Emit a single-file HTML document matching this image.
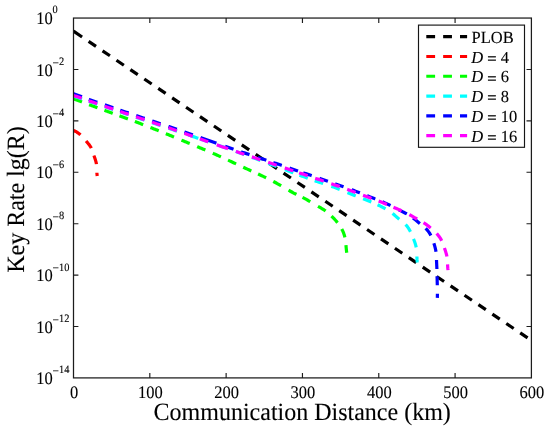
<!DOCTYPE html>
<html><head><meta charset="utf-8"><title>Key Rate vs Communication Distance</title>
<style>html,body{margin:0;padding:0;background:#fff;}body{width:550px;height:429px;overflow:hidden;font-family:"Liberation Serif",serif;}</style>
</head><body>
<svg width="550" height="429" viewBox="0 0 550 429" style="display:block">
<rect x="0" y="0" width="550" height="429" fill="#fff"/>
<defs><clipPath id="ax"><rect x="73.5" y="18.05" width="457.9" height="359.84999999999997"/></clipPath></defs>
<g fill="none" stroke-width="3.2" stroke-linecap="butt" stroke-linejoin="round" clip-path="url(#ax)">
<path d="M73.50,31.20 L529.10,338.91" stroke="#000000" stroke-dasharray="10.35 7.90 8.90 7.90 8.90 7.90 8.90 7.90 8.90 7.90 8.90 7.90 8.90 7.90 8.90 7.90 8.90 7.90 8.90 7.90 8.90 7.90 8.90 7.90 8.90 7.90 8.90 7.90 8.90 7.90 8.90 7.90 8.90 7.90 8.90 7.90 8.90 7.90 8.90 7.90 8.90 7.90 8.90 7.90 8.90 7.90 8.90 7.90 8.90 7.90 8.90 7.90 8.90 7.90 8.90 7.90 8.90 7.90 8.90 7.90 8.90 7.90 8.90 7.90 8.90 7.90 8.90 7.90 8.90 7.90 8.90 7.90 8.90 7.90 8.90 7.90 8.90 7.90 8.90 7.90 8.90 7.90" stroke-dashoffset="0"/>
<path d="M73.60,130.50 L74.13,130.71 L74.64,130.94 L75.15,131.18 L75.64,131.43 L76.12,131.70 L76.60,131.98 L77.06,132.26 L77.51,132.56 L77.96,132.87 L78.40,133.19 L78.82,133.52 L79.24,133.86 L79.66,134.20 L80.07,134.56 L80.47,134.92 L80.86,135.29 L81.25,135.66 L81.64,136.05 L82.02,136.43 L82.39,136.83 L82.76,137.22 L83.13,137.63 L83.50,138.03 L83.86,138.44 L84.22,138.85 L84.58,139.27 L84.94,139.68 L85.30,140.10 L85.65,140.52 L86.01,140.94 L86.37,141.36 L86.73,141.78 L87.08,142.20 L87.44,142.62 L87.79,143.05 L88.15,143.47 L88.49,143.90 L88.83,144.32 L89.17,144.76 L89.49,145.20 L89.81,145.64 L90.12,146.08 L90.41,146.54 L90.70,147.00 L90.97,147.46 L91.23,147.94 L91.47,148.42 L91.70,148.91 L91.92,149.40 L92.12,149.90 L92.32,150.41 L92.51,150.92 L92.69,151.44 L92.87,151.96 L93.04,152.48 L93.20,153.00 L93.37,153.53 L93.53,154.05 L93.69,154.58 L93.85,155.11 L94.02,155.63 L94.18,156.16 L94.35,156.68 L94.53,157.21 L94.70,157.73 L94.87,158.25 L95.04,158.77 L95.21,159.29 L95.38,159.81 L95.54,160.33 L95.69,160.86 L95.84,161.38 L95.98,161.91 L96.10,162.43 L96.22,162.96 L96.33,163.49 L96.42,164.02 L96.50,164.56 L96.57,165.10 L96.62,165.64 L96.67,166.18 L96.71,166.72 L96.73,167.26 L96.76,167.81 L96.78,168.36 L96.79,168.90 L96.81,169.45 L96.82,170.00 L96.83,170.55 L96.84,171.10 L96.86,171.64 L96.88,172.19 L96.90,172.74 L96.93,173.29 L96.97,173.83 L97.02,174.38 L97.08,174.92 L97.15,175.46 L97.23,176.00" stroke="#ff0000" stroke-dasharray="8.20 8.30 8.90 7.90 8.90 8.63 3.68 50.00" stroke-dashoffset="0"/>
<path d="M73.50,98.80 L74.52,99.18 L75.53,99.57 L76.55,99.95 L77.57,100.34 L78.59,100.72 L79.60,101.10 L80.62,101.48 L81.64,101.86 L82.66,102.24 L83.68,102.62 L84.70,103.00 L85.72,103.38 L86.74,103.76 L87.76,104.13 L88.78,104.51 L89.80,104.89 L90.82,105.26 L91.84,105.64 L92.86,106.02 L93.88,106.39 L94.90,106.77 L95.92,107.14 L96.94,107.52 L97.96,107.89 L98.98,108.26 L100.01,108.64 L101.03,109.01 L102.05,109.39 L103.07,109.76 L104.09,110.13 L105.11,110.51 L106.13,110.88 L107.16,111.26 L108.18,111.63 L109.20,112.00 L110.22,112.38 L111.24,112.75 L112.26,113.13 L113.28,113.50 L114.31,113.88 L115.33,114.25 L116.35,114.63 L117.37,115.00 L118.39,115.38 L119.41,115.75 L120.43,116.13 L121.45,116.51 L122.47,116.88 L123.49,117.26 L124.51,117.64 L125.53,118.02 L126.55,118.40 L127.57,118.77 L128.59,119.15 L129.61,119.53 L130.63,119.92 L131.65,120.30 L132.66,120.68 L133.68,121.06 L134.70,121.45 L135.72,121.83 L136.74,122.21 L137.75,122.60 L138.77,122.99 L139.79,123.37 L140.80,123.76 L141.82,124.15 L142.83,124.54 L143.85,124.93 L144.86,125.32 L145.88,125.72 L146.89,126.11 L147.90,126.50 L148.92,126.90 L149.93,127.30 L150.94,127.69 L151.95,128.09 L152.96,128.49 L153.98,128.89 L154.99,129.29 L156.00,129.70 L157.01,130.10 L158.01,130.51 L159.02,130.91 L160.03,131.32 L161.04,131.73 L162.05,132.14 L163.05,132.55 L164.06,132.96 L165.07,133.37 L166.08,133.78 L167.08,134.19 L168.09,134.60 L169.09,135.02 L170.10,135.43 L171.10,135.85 L172.11,136.26 L173.12,136.68 L174.12,137.09 L175.13,137.51 L176.13,137.92 L177.14,138.34 L178.14,138.76 L179.15,139.17 L180.15,139.59 L181.16,140.00 L182.16,140.42 L183.17,140.84 L184.17,141.25 L185.18,141.67 L186.18,142.08 L187.19,142.50 L188.19,142.91 L189.20,143.33 L190.20,143.74 L191.21,144.15 L192.22,144.57 L193.22,144.98 L194.23,145.40 L195.23,145.81 L196.24,146.23 L197.24,146.65 L198.25,147.06 L199.25,147.48 L200.26,147.90 L201.26,148.32 L202.26,148.74 L203.27,149.16 L204.27,149.58 L205.27,150.01 L206.27,150.43 L207.27,150.86 L208.27,151.28 L209.27,151.71 L210.27,152.14 L211.27,152.57 L212.27,153.00 L213.26,153.44 L214.26,153.88 L215.25,154.31 L216.25,154.75 L217.24,155.20 L218.23,155.64 L219.22,156.09 L220.21,156.53 L221.20,156.98 L222.19,157.43 L223.18,157.89 L224.17,158.34 L225.16,158.80 L226.14,159.25 L227.13,159.71 L228.12,160.17 L229.10,160.63 L230.09,161.09 L231.07,161.55 L232.06,162.01 L233.04,162.47 L234.03,162.93 L235.01,163.39 L236.00,163.85 L236.98,164.31 L237.97,164.77 L238.95,165.23 L239.94,165.69 L240.93,166.15 L241.91,166.61 L242.90,167.07 L243.89,167.53 L244.87,167.99 L245.86,168.44 L246.85,168.90 L247.84,169.35 L248.83,169.80 L249.82,170.25 L250.82,170.70 L251.81,171.15 L252.80,171.60 L253.79,172.05 L254.78,172.50 L255.77,172.95 L256.76,173.40 L257.75,173.85 L258.74,174.31 L259.73,174.76 L260.72,175.22 L261.71,175.68 L262.69,176.14 L263.68,176.61 L264.66,177.08 L265.64,177.55 L266.62,178.02 L267.59,178.50 L268.57,178.99 L269.54,179.47 L270.51,179.96 L271.48,180.46 L272.44,180.96 L273.40,181.47 L274.36,181.98 L275.31,182.50 L276.27,183.02 L277.22,183.55 L278.16,184.09 L279.10,184.63 L280.04,185.18 L280.98,185.73 L281.92,186.28 L282.85,186.84 L283.79,187.40 L284.72,187.95 L285.66,188.51 L286.59,189.06 L287.53,189.61 L288.47,190.16 L289.42,190.70 L290.36,191.24 L291.31,191.76 L292.27,192.28 L293.23,192.79 L294.19,193.30 L295.16,193.79 L296.13,194.29 L297.10,194.77 L298.08,195.26 L299.05,195.74 L300.03,196.23 L301.00,196.71 L301.97,197.20 L302.94,197.69 L303.91,198.18 L304.88,198.69 L305.84,199.20 L306.79,199.71 L307.74,200.24 L308.69,200.78 L309.63,201.32 L310.57,201.87 L311.50,202.42 L312.44,202.97 L313.37,203.53 L314.30,204.09 L315.24,204.65 L316.17,205.21 L317.11,205.76 L318.05,206.31 L318.99,206.86 L319.94,207.40 L320.88,207.95 L321.82,208.51 L322.75,209.07 L323.67,209.65 L324.57,210.25 L325.46,210.87 L326.33,211.52 L327.18,212.19 L328.02,212.89 L328.84,213.60 L329.65,214.34 L330.44,215.08 L331.23,215.84 L332.01,216.60 L332.77,217.38 L333.53,218.16 L334.28,218.95 L335.02,219.75 L335.74,220.56 L336.46,221.38 L337.15,222.22 L337.83,223.07 L338.49,223.93 L339.13,224.81 L339.75,225.71 L340.35,226.62 L340.92,227.55 L341.47,228.49 L341.98,229.45 L342.47,230.43 L342.93,231.42 L343.35,232.42 L343.75,233.44 L344.11,234.47 L344.43,235.51 L344.72,236.56 L344.97,237.62 L345.19,238.68 L345.37,239.75 L345.53,240.83 L345.66,241.91 L345.78,242.99 L345.88,244.08 L345.97,245.17 L346.06,246.25 L346.15,247.34 L346.24,248.43 L346.35,249.51 L346.46,250.59 L346.60,251.67 L346.75,252.75" stroke="#00ff00" stroke-dasharray="0.00 0.12 8.90 7.63 8.90 7.42 8.90 7.20 8.90 7.42 8.90 7.85 8.90 7.63 8.90 8.07 8.90 8.07 8.90 8.06 8.90 7.84 8.90 7.86 8.90 7.43 8.90 8.06 8.90 8.72 8.90 6.76 8.90 8.95 8.90 7.86 8.90 7.66 8.90 7.88 8.58 50.00" stroke-dashoffset="0"/>
<path d="M73.50,96.00 L74.76,96.44 L76.02,96.87 L77.27,97.31 L78.53,97.74 L79.79,98.17 L81.05,98.61 L82.31,99.04 L83.57,99.48 L84.83,99.91 L86.08,100.34 L87.34,100.77 L88.60,101.20 L89.86,101.64 L91.12,102.07 L92.38,102.50 L93.64,102.93 L94.90,103.36 L96.16,103.79 L97.42,104.22 L98.68,104.65 L99.94,105.08 L101.20,105.51 L102.46,105.94 L103.72,106.36 L104.98,106.79 L106.24,107.22 L107.50,107.65 L108.76,108.08 L110.02,108.50 L111.28,108.93 L112.54,109.36 L113.81,109.79 L115.07,110.21 L116.33,110.64 L117.59,111.07 L118.85,111.49 L120.11,111.92 L121.37,112.34 L122.63,112.77 L123.89,113.20 L125.15,113.62 L126.42,114.05 L127.68,114.47 L128.94,114.90 L130.20,115.32 L131.46,115.75 L132.72,116.17 L133.98,116.60 L135.25,117.02 L136.51,117.45 L137.77,117.87 L139.03,118.30 L140.29,118.72 L141.55,119.15 L142.82,119.57 L144.08,120.00 L145.34,120.42 L146.60,120.85 L147.86,121.27 L149.12,121.70 L150.38,122.12 L151.65,122.55 L152.91,122.97 L154.17,123.40 L155.43,123.82 L156.69,124.25 L157.95,124.67 L159.21,125.10 L160.48,125.52 L161.74,125.95 L163.00,126.37 L164.26,126.80 L165.52,127.22 L166.78,127.65 L168.04,128.08 L169.30,128.50 L170.57,128.93 L171.83,129.35 L173.09,129.78 L174.35,130.21 L175.61,130.63 L176.87,131.06 L178.13,131.49 L179.39,131.92 L180.65,132.34 L181.91,132.77 L183.17,133.20 L184.43,133.63 L185.69,134.06 L186.95,134.49 L188.21,134.91 L189.48,135.34 L190.74,135.77 L192.00,136.20 L193.25,136.63 L194.51,137.06 L195.77,137.49 L197.03,137.92 L198.29,138.36 L199.55,138.79 L200.81,139.22 L202.07,139.65 L203.33,140.08 L204.59,140.52 L205.85,140.95 L207.11,141.38 L208.36,141.82 L209.62,142.25 L210.88,142.69 L212.14,143.12 L213.40,143.56 L214.65,144.00 L215.91,144.43 L217.17,144.87 L218.43,145.31 L219.68,145.75 L220.94,146.19 L222.20,146.63 L223.45,147.07 L224.71,147.51 L225.96,147.95 L227.22,148.40 L228.47,148.84 L229.73,149.29 L230.98,149.73 L232.24,150.18 L233.49,150.62 L234.74,151.07 L236.00,151.52 L237.25,151.97 L238.50,152.42 L239.76,152.87 L241.01,153.32 L242.26,153.78 L243.51,154.23 L244.76,154.68 L246.01,155.14 L247.26,155.60 L248.51,156.05 L249.76,156.51 L251.01,156.97 L252.26,157.43 L253.51,157.89 L254.76,158.36 L256.01,158.82 L257.25,159.28 L258.50,159.75 L259.75,160.22 L260.99,160.68 L262.24,161.15 L263.49,161.62 L264.73,162.08 L265.98,162.55 L267.22,163.02 L268.47,163.49 L269.72,163.96 L270.96,164.43 L272.21,164.90 L273.45,165.37 L274.70,165.84 L275.94,166.31 L277.19,166.79 L278.43,167.26 L279.68,167.73 L280.92,168.20 L282.17,168.67 L283.41,169.14 L284.66,169.61 L285.90,170.08 L287.15,170.55 L288.39,171.02 L289.64,171.49 L290.89,171.96 L292.13,172.43 L293.38,172.89 L294.63,173.36 L295.87,173.83 L297.12,174.29 L298.37,174.76 L299.61,175.22 L300.86,175.69 L302.11,176.15 L303.36,176.61 L304.61,177.07 L305.86,177.53 L307.11,177.99 L308.36,178.45 L309.61,178.90 L310.86,179.35 L312.11,179.80 L313.37,180.25 L314.62,180.69 L315.88,181.13 L317.14,181.56 L318.40,182.00 L319.66,182.42 L320.92,182.84 L322.18,183.26 L323.45,183.68 L324.71,184.10 L325.98,184.52 L327.24,184.93 L328.51,185.36 L329.77,185.78 L331.03,186.21 L332.28,186.65 L333.54,187.09 L334.79,187.54 L336.04,188.00 L337.28,188.47 L338.53,188.95 L339.77,189.43 L341.00,189.93 L342.24,190.42 L343.47,190.92 L344.70,191.43 L345.94,191.93 L347.17,192.44 L348.40,192.94 L349.63,193.44 L350.87,193.94 L352.10,194.44 L353.34,194.93 L354.58,195.42 L355.82,195.91 L357.06,196.39 L358.30,196.88 L359.54,197.36 L360.78,197.84 L362.02,198.32 L363.26,198.80 L364.50,199.29 L365.74,199.78 L366.97,200.27 L368.21,200.77 L369.44,201.27 L370.67,201.77 L371.90,202.28 L373.13,202.80 L374.35,203.33 L375.57,203.87 L376.78,204.42 L377.99,204.98 L379.19,205.55 L380.39,206.13 L381.58,206.73 L382.77,207.34 L383.95,207.96 L385.12,208.61 L386.28,209.27 L387.43,209.95 L388.56,210.66 L389.67,211.39 L390.77,212.15 L391.84,212.93 L392.89,213.75 L393.91,214.60 L394.92,215.46 L395.92,216.34 L396.92,217.22 L397.92,218.10 L398.94,218.97 L399.97,219.81 L401.02,220.64 L402.07,221.46 L403.10,222.30 L404.11,223.17 L405.08,224.08 L406.00,225.03 L406.86,226.05 L407.67,227.10 L408.44,228.20 L409.15,229.34 L409.82,230.50 L410.44,231.69 L411.03,232.88 L411.58,234.10 L412.10,235.32 L412.61,236.55 L413.09,237.79 L413.57,239.03 L414.05,240.28 L414.52,241.54 L414.96,242.80 L415.37,244.06 L415.74,245.34 L416.06,246.63 L416.31,247.93 L416.50,249.24 L416.64,250.56 L416.74,251.89 L416.80,253.22 L416.85,254.56 L416.89,255.90 L416.93,257.24 L416.98,258.58 L417.06,259.91 L417.17,261.24 L417.33,262.55" stroke="#00ffff" stroke-dasharray="0.00 0.08 8.90 7.34 8.90 7.87 8.90 7.34 8.90 7.87 8.90 8.14 8.90 8.41 8.90 11.94 10.50 2.00 8.84 10.00 8.90 10.00 8.90 8.40 8.90 8.41 8.90 8.94 8.90 6.54 8.90 7.34 8.90 8.67 8.90 8.41 8.90 7.87 8.90 6.81 8.90 8.42 8.90 8.16 8.90 7.66 8.90 9.13 7.20 50.00" stroke-dashoffset="0"/>
<path d="M73.50,93.80 L74.92,94.31 L76.33,94.83 L77.75,95.34 L79.17,95.85 L80.58,96.36 L82.00,96.87 L83.42,97.37 L84.84,97.88 L86.26,98.38 L87.68,98.89 L89.10,99.39 L90.52,99.89 L91.94,100.39 L93.36,100.89 L94.78,101.39 L96.21,101.89 L97.63,102.38 L99.05,102.88 L100.47,103.37 L101.90,103.86 L103.32,104.36 L104.74,104.85 L106.17,105.34 L107.59,105.83 L109.02,106.32 L110.44,106.81 L111.87,107.30 L113.29,107.79 L114.72,108.27 L116.14,108.76 L117.57,109.24 L119.00,109.73 L120.42,110.22 L121.85,110.70 L123.27,111.18 L124.70,111.67 L126.13,112.15 L127.55,112.63 L128.98,113.12 L130.41,113.60 L131.83,114.08 L133.26,114.56 L134.69,115.05 L136.12,115.53 L137.54,116.01 L138.97,116.49 L140.40,116.97 L141.83,117.45 L143.25,117.93 L144.68,118.41 L146.11,118.89 L147.54,119.38 L148.96,119.86 L150.39,120.34 L151.82,120.82 L153.25,121.30 L154.67,121.78 L156.10,122.27 L157.53,122.75 L158.95,123.23 L160.38,123.71 L161.81,124.20 L163.23,124.68 L164.66,125.16 L166.09,125.65 L167.51,126.13 L168.94,126.62 L170.37,127.10 L171.79,127.59 L173.22,128.08 L174.64,128.56 L176.07,129.05 L177.49,129.54 L178.92,130.03 L180.34,130.52 L181.77,131.01 L183.19,131.50 L184.61,131.99 L186.04,132.48 L187.46,132.98 L188.88,133.47 L190.31,133.96 L191.73,134.46 L193.15,134.95 L194.58,135.45 L196.00,135.94 L197.42,136.44 L198.84,136.93 L200.27,137.43 L201.69,137.93 L203.11,138.43 L204.53,138.92 L205.95,139.42 L207.37,139.92 L208.79,140.42 L210.21,140.92 L211.64,141.42 L213.06,141.93 L214.48,142.43 L215.90,142.93 L217.32,143.43 L218.74,143.93 L220.16,144.44 L221.58,144.94 L223.00,145.44 L224.42,145.94 L225.84,146.45 L227.26,146.95 L228.68,147.45 L230.10,147.95 L231.52,148.45 L232.94,148.95 L234.36,149.44 L235.79,149.94 L237.21,150.44 L238.63,150.93 L240.05,151.42 L241.48,151.92 L242.90,152.41 L244.33,152.89 L245.75,153.38 L247.18,153.86 L248.61,154.35 L250.03,154.83 L251.46,155.31 L252.89,155.79 L254.32,156.26 L255.75,156.74 L257.18,157.22 L258.61,157.69 L260.04,158.16 L261.47,158.64 L262.90,159.11 L264.33,159.58 L265.76,160.06 L267.19,160.53 L268.62,161.00 L270.05,161.48 L271.48,161.95 L272.91,162.43 L274.34,162.90 L275.76,163.38 L277.19,163.86 L278.62,164.34 L280.05,164.82 L281.47,165.31 L282.90,165.79 L284.33,166.28 L285.75,166.76 L287.18,167.25 L288.60,167.74 L290.03,168.23 L291.45,168.72 L292.88,169.21 L294.30,169.70 L295.72,170.19 L297.15,170.68 L298.57,171.17 L300.00,171.67 L301.42,172.16 L302.84,172.65 L304.27,173.14 L305.69,173.63 L307.11,174.13 L308.54,174.62 L309.96,175.11 L311.39,175.60 L312.81,176.09 L314.24,176.58 L315.66,177.07 L317.09,177.55 L318.51,178.04 L319.93,178.53 L321.36,179.02 L322.78,179.51 L324.21,180.00 L325.63,180.49 L327.06,180.99 L328.48,181.48 L329.90,181.97 L331.33,182.46 L332.75,182.96 L334.17,183.45 L335.59,183.95 L337.02,184.45 L338.44,184.95 L339.86,185.45 L341.28,185.95 L342.70,186.46 L344.12,186.96 L345.53,187.47 L346.95,187.98 L348.37,188.50 L349.78,189.01 L351.20,189.54 L352.61,190.06 L354.02,190.59 L355.42,191.13 L356.83,191.67 L358.23,192.21 L359.64,192.76 L361.04,193.31 L362.44,193.87 L363.84,194.42 L365.24,194.98 L366.64,195.54 L368.03,196.10 L369.43,196.66 L370.83,197.22 L372.24,197.77 L373.64,198.32 L375.04,198.88 L376.44,199.43 L377.84,199.99 L379.24,200.55 L380.64,201.11 L382.03,201.69 L383.42,202.27 L384.80,202.87 L386.18,203.48 L387.55,204.10 L388.91,204.74 L390.27,205.39 L391.62,206.06 L392.96,206.74 L394.30,207.42 L395.64,208.12 L396.98,208.82 L398.31,209.52 L399.65,210.22 L400.98,210.91 L402.32,211.61 L403.66,212.29 L405.00,212.98 L406.33,213.69 L407.65,214.43 L408.94,215.20 L410.21,216.01 L411.46,216.86 L412.69,217.73 L413.90,218.63 L415.08,219.56 L416.25,220.51 L417.41,221.47 L418.57,222.43 L419.74,223.39 L420.91,224.33 L422.09,225.27 L423.27,226.23 L424.41,227.20 L425.52,228.22 L426.58,229.29 L427.58,230.42 L428.50,231.62 L429.37,232.86 L430.16,234.15 L430.89,235.47 L431.54,236.83 L432.13,238.21 L432.68,239.62 L433.18,241.04 L433.65,242.48 L434.10,243.92 L434.53,245.37 L434.94,246.83 L435.32,248.29 L435.64,249.76 L435.91,251.24 L436.12,252.72 L436.26,254.22 L436.35,255.72 L436.41,257.23 L436.46,258.74 L436.51,260.25 L436.57,261.76 L436.64,263.26 L436.71,264.77 L436.78,266.27 L436.85,267.77 L436.91,269.28 L436.95,270.78 L436.99,272.29 L437.03,273.80 L437.06,275.30 L437.09,276.81 L437.12,278.31 L437.16,279.82 L437.20,281.33 L437.24,282.83 L437.28,284.34 L437.32,285.84 L437.35,287.35 L437.38,288.86 L437.40,290.36 L437.41,291.87 L437.41,293.37 L437.40,294.88 L437.38,296.39 L437.34,297.89" stroke="#0000ff" stroke-dasharray="0.00 0.07 8.90 7.37 8.90 7.97 8.90 7.37 8.90 7.97 8.90 7.97 8.90 8.27 8.90 7.97 8.90 8.24 16.80 9.21 8.90 7.97 8.90 8.87 8.90 7.37 8.90 8.27 8.90 5.56 8.90 8.27 8.90 7.67 8.90 8.57 8.90 7.67 8.90 7.67 8.90 9.48 8.90 7.38 8.90 7.40 8.90 8.29 8.90 8.28 8.90 7.37 8.90 8.43 5.43 50.00" stroke-dashoffset="0"/>
<path d="M73.50,95.40 L74.85,95.89 L76.20,96.37 L77.55,96.86 L78.90,97.34 L80.25,97.82 L81.61,98.30 L82.96,98.78 L84.31,99.26 L85.66,99.74 L87.02,100.21 L88.37,100.68 L89.73,101.16 L91.08,101.63 L92.44,102.10 L93.79,102.57 L95.15,103.04 L96.50,103.51 L97.86,103.98 L99.22,104.44 L100.58,104.91 L101.93,105.37 L103.29,105.84 L104.65,106.30 L106.01,106.76 L107.37,107.22 L108.72,107.68 L110.08,108.14 L111.44,108.60 L112.80,109.06 L114.16,109.52 L115.52,109.98 L116.88,110.44 L118.24,110.90 L119.60,111.35 L120.96,111.81 L122.32,112.27 L123.68,112.72 L125.04,113.18 L126.40,113.64 L127.76,114.09 L129.12,114.55 L130.48,115.00 L131.84,115.46 L133.20,115.92 L134.56,116.37 L135.92,116.83 L137.28,117.28 L138.65,117.74 L140.01,118.19 L141.37,118.65 L142.73,119.11 L144.09,119.56 L145.45,120.02 L146.81,120.48 L148.17,120.94 L149.53,121.39 L150.89,121.85 L152.25,122.31 L153.60,122.77 L154.96,123.23 L156.32,123.69 L157.68,124.15 L159.04,124.61 L160.40,125.07 L161.76,125.54 L163.11,126.00 L164.47,126.47 L165.83,126.93 L167.19,127.40 L168.54,127.86 L169.90,128.33 L171.25,128.80 L172.61,129.27 L173.97,129.74 L175.32,130.21 L176.68,130.68 L178.03,131.16 L179.38,131.63 L180.74,132.11 L182.09,132.58 L183.45,133.06 L184.80,133.53 L186.15,134.01 L187.50,134.49 L188.86,134.97 L190.21,135.45 L191.56,135.92 L192.92,136.40 L194.27,136.88 L195.62,137.36 L196.97,137.84 L198.32,138.32 L199.68,138.80 L201.03,139.28 L202.38,139.76 L203.73,140.24 L205.09,140.72 L206.44,141.20 L207.79,141.68 L209.14,142.15 L210.50,142.63 L211.85,143.11 L213.20,143.59 L214.56,144.06 L215.91,144.54 L217.26,145.01 L218.62,145.49 L219.97,145.96 L221.33,146.43 L222.68,146.91 L224.04,147.38 L225.39,147.85 L226.75,148.32 L228.10,148.79 L229.46,149.25 L230.82,149.72 L232.17,150.19 L233.53,150.65 L234.89,151.12 L236.25,151.58 L237.60,152.05 L238.96,152.51 L240.32,152.97 L241.68,153.44 L243.04,153.90 L244.39,154.36 L245.75,154.82 L247.11,155.28 L248.47,155.74 L249.83,156.20 L251.19,156.66 L252.55,157.12 L253.91,157.58 L255.27,158.03 L256.63,158.49 L257.99,158.95 L259.35,159.41 L260.71,159.87 L262.07,160.32 L263.43,160.78 L264.79,161.24 L266.15,161.70 L267.51,162.15 L268.87,162.61 L270.23,163.07 L271.59,163.53 L272.95,163.98 L274.31,164.44 L275.67,164.90 L277.03,165.36 L278.39,165.82 L279.74,166.27 L281.10,166.73 L282.46,167.19 L283.82,167.65 L285.18,168.11 L286.54,168.57 L287.90,169.02 L289.26,169.48 L290.62,169.94 L291.98,170.40 L293.34,170.86 L294.70,171.32 L296.06,171.78 L297.42,172.24 L298.78,172.69 L300.14,173.15 L301.50,173.61 L302.85,174.07 L304.21,174.53 L305.57,174.99 L306.93,175.45 L308.29,175.91 L309.65,176.37 L311.01,176.83 L312.37,177.29 L313.73,177.75 L315.09,178.21 L316.45,178.67 L317.81,179.13 L319.17,179.59 L320.53,180.05 L321.88,180.51 L323.24,180.97 L324.60,181.43 L325.96,181.89 L327.32,182.35 L328.68,182.81 L330.04,183.28 L331.39,183.74 L332.75,184.21 L334.11,184.68 L335.46,185.15 L336.82,185.62 L338.17,186.09 L339.53,186.57 L340.88,187.04 L342.23,187.52 L343.58,188.01 L344.93,188.49 L346.28,188.98 L347.63,189.47 L348.98,189.96 L350.32,190.46 L351.67,190.96 L353.01,191.47 L354.35,191.97 L355.69,192.48 L357.03,193.00 L358.37,193.51 L359.71,194.02 L361.05,194.53 L362.39,195.05 L363.74,195.56 L365.08,196.06 L366.42,196.57 L367.76,197.07 L369.11,197.57 L370.46,198.07 L371.80,198.57 L373.15,199.06 L374.49,199.56 L375.84,200.06 L377.18,200.56 L378.52,201.07 L379.86,201.58 L381.20,202.11 L382.53,202.63 L383.86,203.17 L385.19,203.72 L386.52,204.27 L387.84,204.83 L389.16,205.39 L390.48,205.95 L391.79,206.52 L393.11,207.09 L394.43,207.66 L395.75,208.23 L397.06,208.79 L398.38,209.37 L399.69,209.95 L401.00,210.54 L402.31,211.13 L403.61,211.74 L404.90,212.36 L406.19,213.00 L407.47,213.64 L408.74,214.31 L410.00,214.99 L411.26,215.68 L412.51,216.39 L413.75,217.10 L415.00,217.81 L416.25,218.51 L417.50,219.21 L418.76,219.90 L420.02,220.60 L421.27,221.30 L422.51,222.03 L423.73,222.78 L424.92,223.57 L426.09,224.40 L427.24,225.26 L428.38,226.14 L429.50,227.04 L430.61,227.95 L431.70,228.88 L432.79,229.82 L433.86,230.78 L434.90,231.76 L435.92,232.78 L436.91,233.82 L437.85,234.91 L438.76,236.04 L439.61,237.20 L440.41,238.40 L441.14,239.64 L441.80,240.91 L442.39,242.21 L442.92,243.54 L443.40,244.89 L443.86,246.25 L444.31,247.62 L444.76,248.99 L445.22,250.36 L445.67,251.73 L446.09,253.10 L446.47,254.48 L446.80,255.87 L447.05,257.28 L447.23,258.70 L447.36,260.12 L447.45,261.56 L447.52,263.00 L447.58,264.44 L447.64,265.88 L447.72,267.32 L447.85,268.75 L448.02,270.17" stroke="#ff00ff" stroke-dasharray="8.75 7.46 8.90 8.03 8.90 7.46 8.90 7.74 8.90 8.03 8.90 8.32 8.90 8.03 8.90 7.46 8.90 9.06 12.00 8.20 8.90 8.03 8.90 8.32 8.90 8.60 8.90 6.31 8.90 8.03 8.90 8.03 8.90 8.03 8.90 8.03 8.90 7.74 8.90 7.17 8.90 8.60 8.90 7.46 8.90 8.07 8.90 7.78 8.90 7.88 6.90 50.00" stroke-dashoffset="0"/>
</g>
<g stroke="#1c1c1c" stroke-width="1.25" fill="none">
<rect x="73.5" y="18.05" width="457.90" height="359.85"/>
<path stroke-width="1.15" d="M149.82,377.9 v-4.9 M149.82,18.05 v4.9"/>
<path stroke-width="1.15" d="M226.13,377.9 v-4.9 M226.13,18.05 v4.9"/>
<path stroke-width="1.15" d="M302.45,377.9 v-4.9 M302.45,18.05 v4.9"/>
<path stroke-width="1.15" d="M378.77,377.9 v-4.9 M378.77,18.05 v4.9"/>
<path stroke-width="1.15" d="M455.08,377.9 v-4.9 M455.08,18.05 v4.9"/>
<path stroke-width="1.1" d="M73.5,69.46 h4.9 M531.4,69.46 h-4.9"/>
<path stroke-width="1.1" d="M73.5,120.86 h4.9 M531.4,120.86 h-4.9"/>
<path stroke-width="1.1" d="M73.5,172.27 h4.9 M531.4,172.27 h-4.9"/>
<path stroke-width="1.1" d="M73.5,223.68 h4.9 M531.4,223.68 h-4.9"/>
<path stroke-width="1.1" d="M73.5,275.09 h4.9 M531.4,275.09 h-4.9"/>
<path stroke-width="1.1" d="M73.5,326.49 h4.9 M531.4,326.49 h-4.9"/>
</g>
<g font-family="'Liberation Serif', 'Times New Roman', serif" fill="#000" text-rendering="geometricPrecision">
<text transform="translate(74.00,397.60) scale(1,1.075)" font-size="16.5" text-anchor="middle" stroke="#000" stroke-width="0.1">0</text>
<text transform="translate(150.32,397.60) scale(1,1.075)" font-size="16.5" text-anchor="middle" stroke="#000" stroke-width="0.1">100</text>
<text transform="translate(226.63,397.60) scale(1,1.075)" font-size="16.5" text-anchor="middle" stroke="#000" stroke-width="0.1">200</text>
<text transform="translate(302.95,397.60) scale(1,1.075)" font-size="16.5" text-anchor="middle" stroke="#000" stroke-width="0.1">300</text>
<text transform="translate(379.27,397.60) scale(1,1.075)" font-size="16.5" text-anchor="middle" stroke="#000" stroke-width="0.1">400</text>
<text transform="translate(455.58,397.60) scale(1,1.075)" font-size="16.5" text-anchor="middle" stroke="#000" stroke-width="0.1">500</text>
<text transform="translate(531.90,397.60) scale(1,1.075)" font-size="16.5" text-anchor="middle" stroke="#000" stroke-width="0.1">600</text>
<text transform="translate(36.20,24.15) scale(1,1.075)" font-size="16.5" text-anchor="start" stroke="#000" stroke-width="0.1">10<tspan font-size="10.4" dx="-0.1" dy="-10.1">0</tspan></text>
<text transform="translate(36.20,75.56) scale(1,1.075)" font-size="16.5" text-anchor="start" stroke="#000" stroke-width="0.1">10<tspan font-size="11.4" dx="-0.2" dy="-8.4">−</tspan><tspan font-size="10.4" dx="0.1" dy="-1.5">2</tspan></text>
<text transform="translate(36.20,126.96) scale(1,1.075)" font-size="16.5" text-anchor="start" stroke="#000" stroke-width="0.1">10<tspan font-size="11.4" dx="-0.2" dy="-8.4">−</tspan><tspan font-size="10.4" dx="0.1" dy="-1.5">4</tspan></text>
<text transform="translate(36.20,178.37) scale(1,1.075)" font-size="16.5" text-anchor="start" stroke="#000" stroke-width="0.1">10<tspan font-size="11.4" dx="-0.2" dy="-8.4">−</tspan><tspan font-size="10.4" dx="0.1" dy="-1.5">6</tspan></text>
<text transform="translate(36.20,229.78) scale(1,1.075)" font-size="16.5" text-anchor="start" stroke="#000" stroke-width="0.1">10<tspan font-size="11.4" dx="-0.2" dy="-8.4">−</tspan><tspan font-size="10.4" dx="0.1" dy="-1.5">8</tspan></text>
<text transform="translate(36.20,281.19) scale(1,1.075)" font-size="16.5" text-anchor="start" stroke="#000" stroke-width="0.1">10<tspan font-size="11.4" dx="-0.2" dy="-8.4">−</tspan><tspan font-size="10.4" dx="0.1" dy="-1.5">10</tspan></text>
<text transform="translate(36.20,332.59) scale(1,1.075)" font-size="16.5" text-anchor="start" stroke="#000" stroke-width="0.1">10<tspan font-size="11.4" dx="-0.2" dy="-8.4">−</tspan><tspan font-size="10.4" dx="0.1" dy="-1.5">12</tspan></text>
<text transform="translate(36.20,384.00) scale(1,1.075)" font-size="16.5" text-anchor="start" stroke="#000" stroke-width="0.1">10<tspan font-size="11.4" dx="-0.2" dy="-8.4">−</tspan><tspan font-size="10.4" dx="0.1" dy="-1.5">14</tspan></text>
<text transform="translate(302.20,420.30) scale(1,1.035)" font-size="24.0" text-anchor="middle" stroke="#000" stroke-width="0.1">Communication Distance (km)</text>
<text transform="translate(23.5,199.5) rotate(-90) scale(1,1.035)" font-size="24.0" text-anchor="middle" stroke="#000" stroke-width="0.1">Key Rate lg(R)</text>
</g>
<rect x="418.5" y="25.1" width="106.0" height="122.20" fill="#fff" stroke="#161616" stroke-width="1.15"/>
<g font-family="'Liberation Serif', 'Times New Roman', serif" fill="#000" text-rendering="geometricPrecision">
<path d="M426.3,36.70 H467.1" stroke="#000000" stroke-width="3.2" stroke-dasharray="8.8 8.05" fill="none"/>
<text transform="translate(471.60,42.70) scale(1,1.03)" font-size="16.5" text-anchor="start" stroke="#000" stroke-width="0.1">PLOB</text>
<path d="M426.3,56.48 H467.1" stroke="#ff0000" stroke-width="3.2" stroke-dasharray="8.8 8.05" fill="none"/>
<text transform="translate(471.20,62.58) scale(1,1.02)" font-size="16.5" text-anchor="start" stroke="#000" stroke-width="0.1"><tspan font-style="italic">D</tspan> <tspan dy="1.2" stroke="#000" stroke-width="0.3">=</tspan><tspan dy="-1.2"> 4</tspan></text>
<path d="M426.3,76.26 H467.1" stroke="#00ff00" stroke-width="3.2" stroke-dasharray="8.8 8.05" fill="none"/>
<text transform="translate(471.20,82.36) scale(1,1.02)" font-size="16.5" text-anchor="start" stroke="#000" stroke-width="0.1"><tspan font-style="italic">D</tspan> <tspan dy="1.2" stroke="#000" stroke-width="0.3">=</tspan><tspan dy="-1.2"> 6</tspan></text>
<path d="M426.3,96.04 H467.1" stroke="#00ffff" stroke-width="3.2" stroke-dasharray="8.8 8.05" fill="none"/>
<text transform="translate(471.20,102.14) scale(1,1.02)" font-size="16.5" text-anchor="start" stroke="#000" stroke-width="0.1"><tspan font-style="italic">D</tspan> <tspan dy="1.2" stroke="#000" stroke-width="0.3">=</tspan><tspan dy="-1.2"> 8</tspan></text>
<path d="M426.3,115.82 H467.1" stroke="#0000ff" stroke-width="3.2" stroke-dasharray="8.8 8.05" fill="none"/>
<text transform="translate(471.20,121.92) scale(1,1.02)" font-size="16.5" text-anchor="start" stroke="#000" stroke-width="0.1"><tspan font-style="italic">D</tspan> <tspan dy="1.2" stroke="#000" stroke-width="0.3">=</tspan><tspan dy="-1.2"> 10</tspan></text>
<path d="M426.3,135.60 H467.1" stroke="#ff00ff" stroke-width="3.2" stroke-dasharray="8.8 8.05" fill="none"/>
<text transform="translate(471.20,141.70) scale(1,1.02)" font-size="16.5" text-anchor="start" stroke="#000" stroke-width="0.1"><tspan font-style="italic">D</tspan> <tspan dy="1.2" stroke="#000" stroke-width="0.3">=</tspan><tspan dy="-1.2"> 16</tspan></text>
</g>
</svg>
</body></html>
